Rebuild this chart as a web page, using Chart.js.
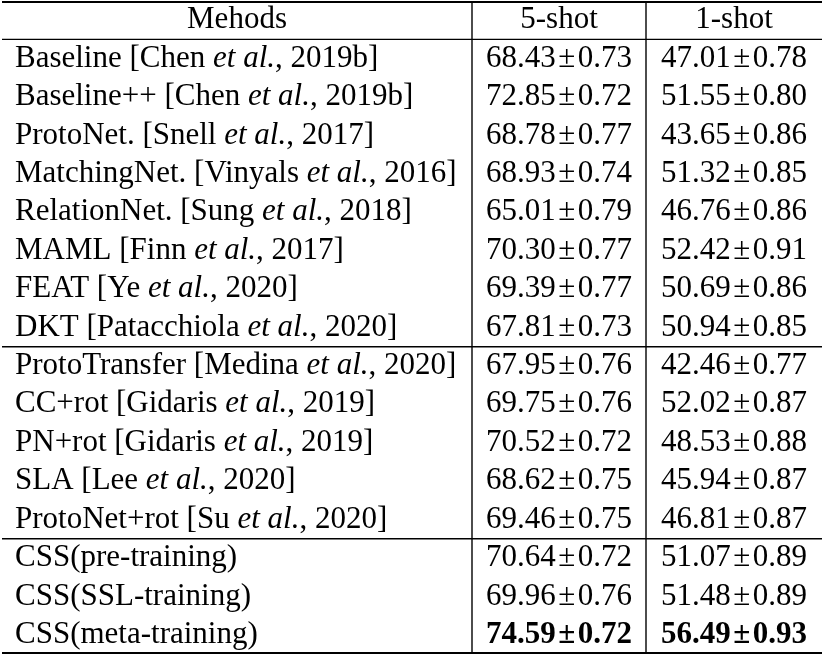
<!DOCTYPE html>
<html lang="en">
<head>
    <meta charset="UTF-8">
    <title>Few-shot results table</title>
    <script src="https://cdn.jsdelivr.net/npm/chart.js"></script>
    <style>
        body {
            margin: 0;
            padding: 0;
            background-color: #ffffff;
        }
        #wrap {
            width: 825px;
            height: 658px;
        }
    </style>
</head>
<body>
    <div id="wrap"><canvas id="tableChart"></canvas></div>

    <script>
        // Datos de la tabla
        const headers = ['Mehods', '5-shot', '1-shot'];
        const methods = [
            'Baseline [Chen et al., 2019b]',
            'Baseline++ [Chen et al., 2019b]',
            'ProtoNet. [Snell et al., 2017]',
            'MatchingNet. [Vinyals et al., 2016]',
            'RelationNet. [Sung et al., 2018]',
            'MAML [Finn et al., 2017]',
            'FEAT [Ye et al., 2020]',
            'DKT [Patacchiola et al., 2020]',
            'ProtoTransfer [Medina et al., 2020]',
            'CC+rot [Gidaris et al., 2019]',
            'PN+rot [Gidaris et al., 2019]',
            'SLA [Lee et al., 2020]',
            'ProtoNet+rot [Su et al., 2020]',
            'CSS(pre-training)',
            'CSS(SSL-training)',
            'CSS(meta-training)'
        ];
        const shot5Mean = [68.43, 72.85, 68.78, 68.93, 65.01, 70.30, 69.39, 67.81, 67.95, 69.75, 70.52, 68.62, 69.46, 70.64, 69.96, 74.59];
        const shot5Std  = [0.73, 0.72, 0.77, 0.74, 0.79, 0.77, 0.77, 0.73, 0.76, 0.76, 0.72, 0.75, 0.75, 0.72, 0.76, 0.72];
        const shot1Mean = [47.01, 51.55, 43.65, 51.32, 46.76, 52.42, 50.69, 50.94, 42.46, 52.02, 48.53, 45.94, 46.81, 51.07, 51.48, 56.49];
        const shot1Std  = [0.78, 0.80, 0.86, 0.85, 0.86, 0.91, 0.86, 0.85, 0.77, 0.87, 0.88, 0.87, 0.87, 0.89, 0.89, 0.93];
        const groupEnds = [7, 12];   // separación después de DKT y de ProtoNet+rot
        const bestRow = 15;          // fila en negrita

        // Geometría de columnas (unidades del eje x = píxeles)
        const colLines = [472, 646];
        const colCenters = [237, 559, 734];
        const methodX = 15;
        const FONT = '"Liberation Serif", "Times New Roman", serif';
        const SIZE = 31;

        const rowLabels = [headers[0]].concat(methods);

        function fmt(m, s) {
            return m.toFixed(2) + '\u200a\u00b1\u200a' + s.toFixed(2);
        }

        // y = etiqueta de la fila (el eje de categorías la convierte en posición)
        function buildData(means, stds, col) {
            return means.map((m, i) => ({ x: colCenters[col], y: methods[i], text: fmt(m, stds[i]) }));
        }

        // Dibuja texto con "et al." en cursiva
        function drawRich(ctx, str, x, y) {
            const parts = str.split('et al.');
            let cx = x;
            parts.forEach((p, i) => {
                ctx.font = SIZE + 'px ' + FONT;
                ctx.fillText(p, cx, y);
                cx += ctx.measureText(p).width;
                if (i < parts.length - 1) {
                    ctx.font = 'italic ' + SIZE + 'px ' + FONT;
                    ctx.fillText('et al.', cx, y);
                    cx += ctx.measureText('et al.').width;
                }
            });
        }

        const tablePlugin = {
            id: 'tablePlugin',
            afterDatasetsDraw(chart) {
                const ctx = chart.ctx;
                const x = chart.scales.x;
                const y = chart.scales.y;
                const area = chart.chartArea;
                const left = x.getPixelForValue(2);
                const right = x.getPixelForValue(822);
                const between = (i) => (y.getPixelForValue(i) + y.getPixelForValue(i + 1)) / 2;

                ctx.save();
                ctx.fillStyle = '#000';
                ctx.textBaseline = 'middle';

                // Encabezados
                ctx.textAlign = 'center';
                ctx.font = SIZE + 'px ' + FONT;
                headers.forEach((h, c) => {
                    ctx.fillText(h, x.getPixelForValue(colCenters[c]), y.getPixelForValue(0));
                });

                // Métodos
                ctx.textAlign = 'left';
                methods.forEach((m, i) => {
                    drawRich(ctx, m, x.getPixelForValue(methodX), y.getPixelForValue(i + 1));
                });

                // Valores de los datasets
                ctx.textAlign = 'center';
                chart.data.datasets.forEach((ds, di) => {
                    const meta = chart.getDatasetMeta(di);
                    meta.data.forEach((pt, i) => {
                        const bold = (i === bestRow) ? 'bold ' : '';
                        ctx.font = bold + SIZE + 'px ' + FONT;
                        ctx.fillText(ds.data[i].text, pt.x, pt.y);
                    });
                });

                // Líneas horizontales
                ctx.strokeStyle = '#000';
                const hline = (py, w) => {
                    ctx.lineWidth = w;
                    ctx.beginPath();
                    ctx.moveTo(left, py);
                    ctx.lineTo(right, py);
                    ctx.stroke();
                };
                hline(area.top + 1, 2);
                hline(between(0), 1.4);
                groupEnds.forEach(g => hline(between(g + 1), 1.4));
                hline(area.bottom - 1, 2);

                // Líneas verticales
                ctx.lineWidth = 1.4;
                colLines.forEach(cx => {
                    const px = x.getPixelForValue(cx);
                    ctx.beginPath();
                    ctx.moveTo(px, area.top + 1);
                    ctx.lineTo(px, area.bottom - 1);
                    ctx.stroke();
                });
                ctx.restore();
            }
        };

        const ctx = document.getElementById('tableChart').getContext('2d');
        new Chart(ctx, {
            type: 'scatter',
            data: {
                datasets: [
                    { label: headers[1], data: buildData(shot5Mean, shot5Std, 1), pointRadius: 0 },
                    { label: headers[2], data: buildData(shot1Mean, shot1Std, 2), pointRadius: 0 }
                ]
            },
            options: {
                responsive: true,
                maintainAspectRatio: false,
                animation: false,
                layout: { padding: { top: 1, bottom: 4, left: 0, right: 0 } },
                plugins: {
                    legend: { display: false },
                    tooltip: { enabled: false }
                },
                scales: {
                    x: { type: 'linear', min: 0, max: 825, display: false },
                    y: { type: 'category', labels: rowLabels, offset: true, display: false }
                }
            },
            plugins: [tablePlugin]
        });
    </script>
</body>
</html>
